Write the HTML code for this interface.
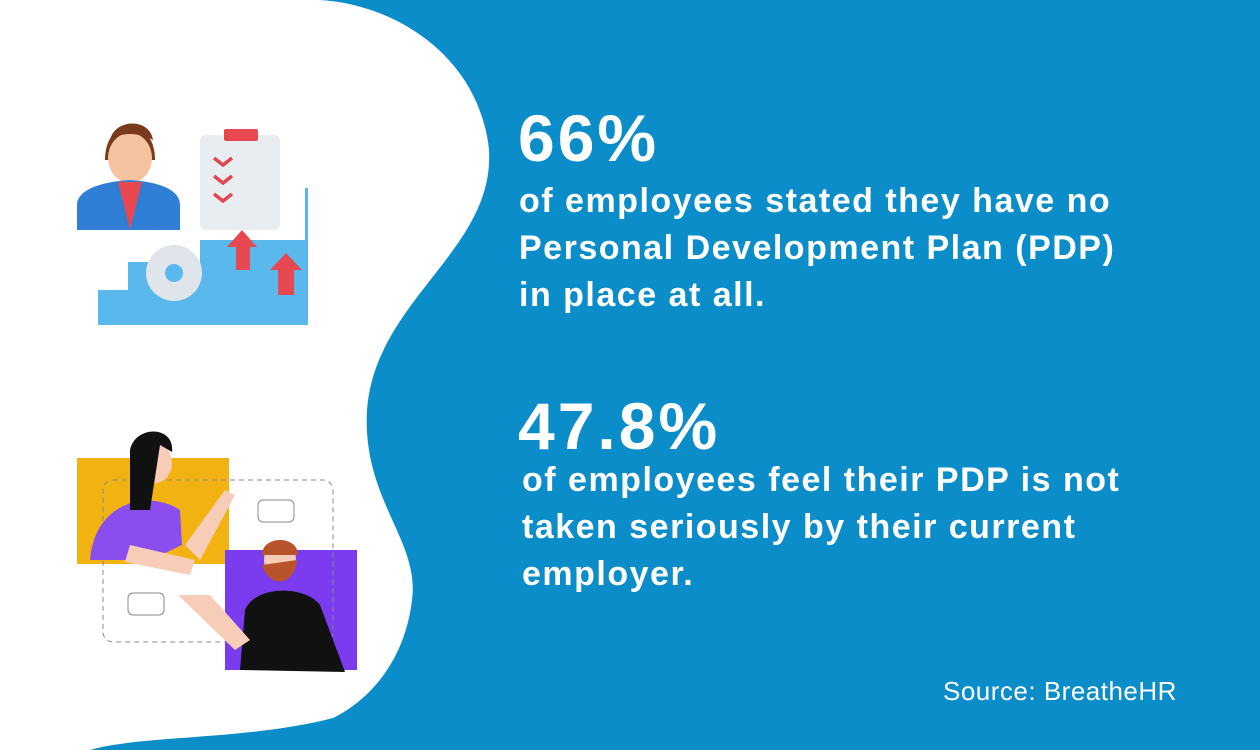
<!DOCTYPE html>
<html><head><meta charset="utf-8"><style>
html,body{margin:0;padding:0}
body{width:1260px;height:750px;overflow:hidden;background:#0a8dc8;position:relative;font-family:"Liberation Sans",sans-serif}
svg{position:absolute;left:0;top:0}
.t{position:absolute;color:#fff;font-weight:bold;white-space:nowrap}
.big{font-size:66px;letter-spacing:3px}
.body{font-size:34px;line-height:47px;letter-spacing:1.5px}
</style></head><body>
<svg width="1260" height="750" viewBox="0 0 1260 750">
<path fill="#fff" d="M0,0 L320,0 C400,5 480,60 489,150 C495,250 375,300 367,410 C362,500 420,540 412,600 C405,660 370,700 333,718 C250,740 140,735 90,750 L0,750 Z"/>
<g>
<path d="M98,315 L98,290 L128,290 L128,262 L200,262 L200,240 L305,240 L305,188 L308,188 L308,325 L98,325 Z" fill="#5bb8ec"/>
<rect x="200" y="135" width="80" height="95" rx="6" fill="#e8edf2"/>
<rect x="224" y="129" width="34" height="12" rx="2" fill="#e8484f"/>
<path d="M214,158 l9,7 l9,-7 M214,176 l9,7 l9,-7 M214,194 l9,7 l9,-7" stroke="#e0474f" stroke-width="3.5" fill="none"/>
<path d="M243,247 L227,247 L242,230 L257,247 L250,247 L250,270 L236,270 L236,247 Z" fill="#e8484f"/>
<path d="M286,270 L270,270 L286,253 L302,270 L294,270 L294,295 L278,295 L278,270 Z" fill="#e8484f"/>
<circle cx="174" cy="273" r="28" fill="#dfe5ea"/>
<circle cx="174" cy="273" r="9" fill="#5bb8ec"/>
<path d="M105,160 C105,115 155,115 155,160 Z" fill="#7a3a1c"/>
<ellipse cx="130" cy="158" rx="22" ry="25" fill="#f6c3a0"/>
<path d="M110,140 C115,118 150,118 153,140 C140,132 120,132 110,140Z" fill="#7a3a1c"/>
<path d="M77,230 L77,205 C77,190 100,182 130,180 C160,182 180,190 180,205 L180,230 Z" fill="#2f7fd6"/>
<path d="M118,182 L130,230 L142,182 Z" fill="#e8484f"/>
</g>
<g>
<rect x="77" y="458" width="152" height="106" fill="#f2b312"/>
<rect x="225" y="550" width="132" height="120" fill="#7b3cf0"/>
<rect x="103" y="480" width="230" height="162" rx="10" fill="none" stroke="#888" stroke-dasharray="5 4"/>
<rect x="258" y="500" width="36" height="22" rx="5" fill="#fff" stroke="#888"/>
<rect x="128" y="593" width="36" height="22" rx="5" fill="#fff" stroke="#888"/>
<path d="M90,560 C95,500 150,490 180,510 L182,545 L150,560 Z" fill="#8a4dee"/>
<ellipse cx="155" cy="463" rx="17" ry="20" fill="#f7cdb7"/>
<path d="M130,450 C135,425 175,425 172,452 L160,445 L150,510 L130,510 Z" fill="#111"/>
<path d="M130,545 L195,560 L190,575 L125,562Z M185,545 L225,490 L235,495 L200,560Z" fill="#f7cdb7"/>
<ellipse cx="280" cy="560" rx="16" ry="20" fill="#f7cdb7"/>
<path d="M262,565 C270,590 295,585 297,560 Z" fill="#b8532c"/>
<path d="M262,555 C262,535 298,535 298,555 Z" fill="#b8532c"/>
<path d="M240,670 L245,610 C255,585 305,585 320,605 L345,672 Z" fill="#111"/>
<path d="M178,595 L235,650 L250,640 L210,595Z" fill="#f7cdb7"/>
</g>
</svg>
<div class="t big" style="left:518px;top:100px">66%</div>
<div class="t body" style="left:519px;top:178px">of employees stated they have no<br>Personal Development Plan (PDP)<br>in place at all.</div>
<div class="t big" style="left:518px;top:388px">47.8%</div>
<div class="t body" style="left:522px;top:457px">of employees feel their PDP is not<br>taken seriously by their current<br>employer.</div>
<div class="t" style="left:943px;top:676px;font-size:26px;font-weight:normal;letter-spacing:0.5px">Source: BreatheHR</div>
</body></html>
